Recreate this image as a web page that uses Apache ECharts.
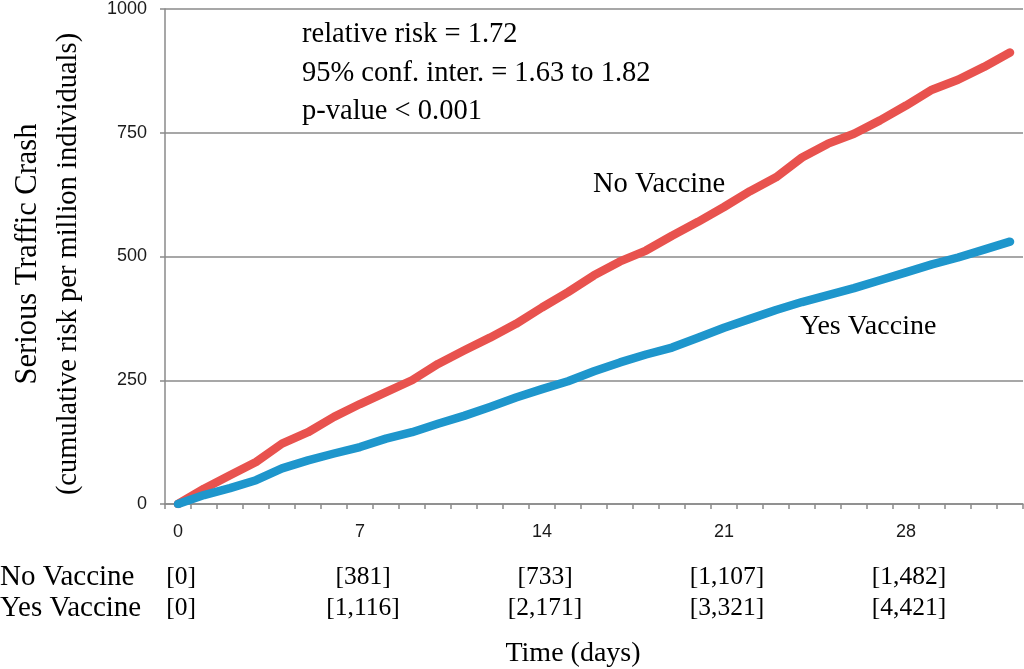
<!DOCTYPE html>
<html>
<head>
<meta charset="utf-8">
<script src="https://cdn.jsdelivr.net/npm/echarts@6/dist/echarts.min.js"></script>
<style>html,body{margin:0;padding:0;background:#fff}#c{width:1024px;height:669px}</style>
</head>
<body>
<div id="c"></div>
<script>
// ---- data ----
var days = [];
for (var d = 0; d <= 32; d++) days.push(String(d));
var noVaccine = [0,31,58,85,122,145,176,202,226,250,283,310,336,364,397,428,462,490,512,542,570,600,632,660,700,728,748,775,805,837,857,883,912];
var yesVaccine = [0,18,32,48,72,88,102,115,132,145,162,178,196,215,232,248,268,286,302,316,336,356,374,392,408,422,436,452,468,484,498,514,530];
var yTicks = [0,250,500,750,1000];
var tableDays = ['0','7','14','21','28'];
var noVaccineCounts = ['[0]','[381]','[733]','[1,107]','[1,482]'];
var yesVaccineCounts = ['[0]','[1,116]','[2,171]','[3,321]','[4,421]'];
var statsLines = ['relative risk = 1.72','95% conf. inter. = 1.63 to 1.82','p-value < 0.001'];

var SERIF = 'Liberation Serif';
var SANS = 'Liberation Sans';
var GRAY = '#8a8a8a';

var chart = echarts.init(document.getElementById('c'), null, {renderer:'canvas'});

function txt(text, x, y, size, align, vAlign, rot) {
  return {
    type: 'text', x: x, y: y, rotation: rot || 0, silent: true,
    style: {
      text: text, fontSize: size, fontFamily: SERIF, fill: '#000',
      textAlign: align, textVerticalAlign: vAlign, align: align, verticalAlign: vAlign
    }
  };
}

var option = {
  animation: false,
  backgroundColor: '#fff',
  grid: { left: 165, right: 1, top: 8, bottom: 165, containLabel: false },
  xAxis: {
    type: 'category', data: days, boundaryGap: true,
    axisLine: { show: true, lineStyle: { color: GRAY, width: 1.5 } },
    axisTick: { show: true, interval: 0, length: 5, lineStyle: { color: GRAY, width: 1.5 } },
    axisLabel: { show: true, interval: 6, margin: 19, fontSize: 18, fontFamily: SANS, color: '#1a1a1a' },
    splitLine: { show: false }
  },
  yAxis: {
    type: 'value', min: yTicks[0], max: yTicks[yTicks.length - 1], interval: yTicks[1] - yTicks[0],
    axisLine: { show: true, lineStyle: { color: GRAY, width: 1.5 } },
    axisTick: { show: true, length: 5, lineStyle: { color: GRAY, width: 1.5 } },
    axisLabel: { show: true, margin: 18, fontSize: 18, fontFamily: SANS, color: '#1a1a1a',
      formatter: function (v) { return String(v); } },
    splitLine: { show: true, lineStyle: { color: GRAY, width: 1.5 } }
  },
  series: [
    { name: 'No Vaccine', type: 'line', data: noVaccine, showSymbol: false, symbol: 'none',
      lineStyle: { color: '#E8524E', width: 8.5, cap: 'round', join: 'round' }, z: 3 },
    { name: 'Yes Vaccine', type: 'line', data: yesVaccine, showSymbol: false, symbol: 'none',
      lineStyle: { color: '#1E96CC', width: 8.5, cap: 'round', join: 'round' }, z: 4 }
  ]
};
chart.setOption(option);

var g = [];
for (var i = 0; i < statsLines.length; i++) g.push(txt(statsLines[i], 302, 35 + i * 38.5, 28.5, 'left', 'middle'));
g.push(txt('No Vaccine', 593, 185, 28.5, 'left', 'middle'));
g.push(txt('Yes Vaccine', 800, 327, 28, 'left', 'middle'));
g.push(txt('Serious Traffic Crash', 28, 254, 30.5, 'center', 'middle', Math.PI / 2));
g.push(txt('(cumulative risk per million individuals)', 69, 264, 28.5, 'center', 'middle', Math.PI / 2));
g.push(txt('No Vaccine', 0, 577, 29, 'left', 'middle'));
g.push(txt('Yes Vaccine', 0, 608, 29, 'left', 'middle'));
for (var j = 0; j < tableDays.length; j++) {
  var px = chart.convertToPixel({ xAxisIndex: 0 }, tableDays[j]);
  g.push(txt(noVaccineCounts[j], px + 3, 577, 25.5, 'center', 'middle'));
  g.push(txt(yesVaccineCounts[j], px + 3, 608, 25.5, 'center', 'middle'));
}
g.push(txt('Time (days)', 573, 654, 28, 'center', 'middle'));
chart.setOption({ graphic: { elements: g } });
</script>
</body>
</html>
